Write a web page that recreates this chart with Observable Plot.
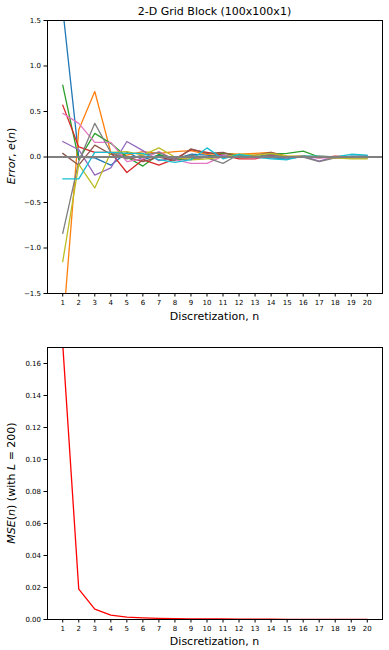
<!DOCTYPE html>
<html><head><meta charset="utf-8">
<script src="https://cdn.jsdelivr.net/npm/d3@7"></script>
<script src="https://cdn.jsdelivr.net/npm/@observablehq/plot@0.6"></script>
<style>
body{margin:0;background:#fff;}
#wrap{position:relative;width:389px;height:650px;font-family:"DejaVu Sans",sans-serif;}
#title{position:absolute;left:47px;width:335px;top:5px;line-height:13px;text-align:center;font-size:11px;color:#000;}
#c1{position:absolute;left:0;top:14px;}
#c2{position:absolute;left:0;top:333px;}
</style></head>
<body>
<div id="wrap">
<div id="title">2-D Grid Block (100x100x1)</div>
<div id="c1"></div>
<div id="c2"></div>
</div>
<script>
const nVals = d3.range(1, 21);
const xTicks = nVals;
const errTicks = [-1.5, -1.0, -0.5, 0.0, 0.5, 1.0, 1.5];
const mseTicks = [0, 0.02, 0.04, 0.06, 0.08, 0.10, 0.12, 0.14, 0.16];
const colors = ["#1f77b4","#ff7f0e","#2ca02c","#d62728","#9467bd","#8c564b","#e377c2","#7f7f7f","#bcbd22","#17becf"];

const errBlue   = [1.63, 0.0, -0.01, -0.09, 0.05, -0.03, 0.02, -0.02, 0.03, 0.02, 0.0, 0.02, 0.01, -0.01, -0.02, 0.01, 0.0, -0.01, 0.01, 0.01];
const errOrange = [-1.9, 0.3, 0.72, 0.05, 0.02, 0.06, 0.04, 0.06, 0.07, 0.03, 0.04, 0.03, 0.04, 0.05, 0.01, 0.0, 0.01, 0.0, 0.0, 0.0];
const errGreen  = [0.79, -0.03, 0.26, 0.15, 0.0, -0.1, 0.03, -0.03, -0.02, 0.0, 0.04, 0.02, 0.0, 0.03, 0.04, 0.065, 0.0, 0.0, -0.01, -0.01];
const errRed    = [0.57, 0.11, 0.05, 0.05, -0.17, -0.03, -0.09, -0.02, 0.08, 0.05, 0.02, -0.02, -0.02, 0.02, 0.0, 0.01, -0.01, 0.01, 0.0, 0.0];
const errPurple = [0.17, 0.08, -0.2, -0.12, 0.17, 0.07, -0.04, -0.01, -0.03, 0.0, 0.02, 0.01, 0.0, 0.01, 0.0, 0.01, -0.045, 0.0, 0.0, 0.0];
const errBrown  = [0.04, -0.09, 0.13, 0.03, 0.0, -0.05, 0.0, -0.04, 0.09, 0.04, 0.05, 0.0, 0.02, 0.05, 0.0, 0.0, 0.0, -0.01, 0.0, 0.01];
const errPink   = [0.48, 0.37, 0.16, 0.16, -0.05, -0.02, 0.06, -0.03, -0.07, -0.07, 0.01, 0.0, -0.01, 0.0, -0.01, 0.0, -0.01, -0.01, -0.01, -0.01];
const errGray   = [-0.84, -0.05, 0.37, 0.05, -0.02, 0.02, 0.05, -0.03, 0.02, -0.01, -0.07, 0.03, 0.0, 0.03, -0.01, 0.0, -0.05, -0.01, 0.0, 0.01];
const errOlive  = [-1.15, -0.08, -0.34, 0.05, 0.06, 0.02, 0.1, 0.0, -0.03, -0.02, 0.0, 0.03, 0.02, 0.04, 0.01, 0.01, 0.0, -0.01, -0.02, -0.02];
const errCyan   = [-0.24, -0.24, 0.05, 0.05, 0.04, 0.04, -0.03, -0.06, -0.03, 0.1, -0.02, 0.03, 0.0, -0.02, -0.03, 0.01, 0.01, 0.0, 0.03, 0.02];
const errSeries = [errBlue, errOrange, errGreen, errRed, errPurple, errBrown, errPink, errGray, errOlive, errCyan];

const mse = [0.172, 0.019, 0.0065, 0.0028, 0.0015, 0.001, 0.0007, 0.0005, 0.0004, 0.0003, 0.0003, 0.0002, 0.0002, 0.0002, 0.0001, 0.0001, 0.0001, 0.0001, 0.0001, 0.0001];

const common = {
  width: 389,
  marginLeft: 47,
  marginRight: 7,
  style: {fontSize: "7px", fontFamily: "DejaVu Sans", color: "#000", background: "transparent", overflow: "visible"}
};

const p1 = Plot.plot({
  ...common,
  height: 319,
  marginTop: 6,
  marginBottom: 40,
  x: {domain: [0.05, 20.95]},
  y: {domain: [-1.5, 1.5]},
  marks: [
    ...errSeries.map((vals, i) => Plot.line(nVals, {x: d => d, y: (d, j) => vals[j], stroke: colors[i], strokeWidth: 1.3, clip: true})),
    Plot.ruleY([0], {stroke: "#808080", strokeWidth: 2}),
    Plot.frame({stroke: "#000", strokeWidth: 1}),
    Plot.axisX({ticks: xTicks, tickFormat: d => String(d), tickSize: 3.5, tickPadding: 3, label: null}),
    Plot.axisY({ticks: errTicks, tickFormat: d3.format(".1f"), tickSize: 3.5, tickPadding: 3, label: null})
  ]
});

const p2 = Plot.plot({
  ...common,
  height: 317,
  marginTop: 14,
  marginBottom: 31,
  x: {domain: [0.05, 20.95]},
  y: {domain: [0, 0.17]},
  marks: [
    Plot.line(nVals, {x: d => d, y: (d, j) => mse[j], stroke: "#ff0000", strokeWidth: 1.3, clip: true}),
    Plot.frame({stroke: "#000", strokeWidth: 1}),
    Plot.axisX({ticks: xTicks, tickFormat: d => String(d), tickSize: 3.5, tickPadding: 3, label: null}),
    Plot.axisY({ticks: mseTicks, tickFormat: d3.format(".2f"), tickSize: 3.5, tickPadding: 3, label: null})
  ]
});

document.getElementById("c1").appendChild(p1);
document.getElementById("c2").appendChild(p2);

function addLabels(svg, xLabelY, yLabelCY, parts) {
  const s = d3.select(svg);
  s.append("text")
    .attr("x", 47 + 335 / 2).attr("y", xLabelY)
    .attr("text-anchor", "middle")
    .style("font-size", "11px").style("font-family", "DejaVu Sans").attr("fill", "#000")
    .text("Discretization, n");
  const t = s.append("text")
    .attr("transform", `translate(15,${yLabelCY}) rotate(-90)`)
    .attr("text-anchor", "middle")
    .style("font-size", "11px").style("font-family", "DejaVu Sans").attr("fill", "#000");
  parts.forEach(([txt, it]) => {
    t.append("tspan").style("font-style", it ? "italic" : "normal").text(txt);
  });
}
addLabels(p1, 306, 142, [["Error", true], [", ", false], ["e", true], ["(", false], ["n", true], [")", false]]);
addLabels(p2, 312, 150, [["MSE", true], ["(", false], ["n", true], [") (with ", false], ["L", true], [" = 200)", false]]);
</script>
</body></html>
